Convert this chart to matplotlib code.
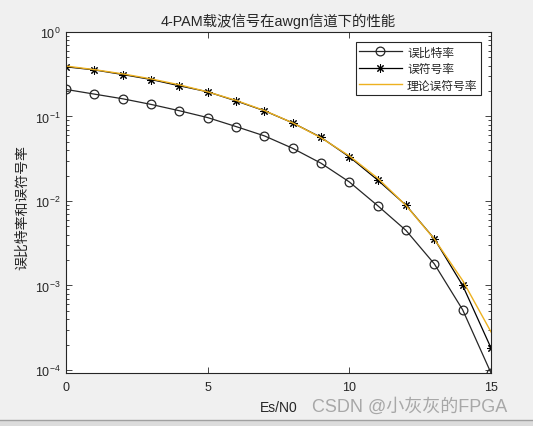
import matplotlib
matplotlib.use("Agg")
import matplotlib.pyplot as plt
from matplotlib.ticker import LogLocator, FixedLocator, NullLocator

plt.rcParams['font.family'] = ['Liberation Sans', 'Noto Sans CJK SC', 'DejaVu Sans']
plt.rcParams['mathtext.fontset'] = 'custom'
plt.rcParams['mathtext.rm'] = 'Liberation Sans'

# data
es_n0 = [0, 1, 2, 3, 4, 5, 6, 7, 8, 9, 10, 11, 12, 13, 14, 15]
ber = [0.209, 0.184, 0.162, 0.139, 0.117, 0.097, 0.076, 0.059, 0.042, 0.028,
       0.0168, 0.0088, 0.00448, 0.0018, 0.000515, 0.000092]
ser = [0.387, 0.356, 0.314, 0.274, 0.231, 0.196, 0.153, 0.117, 0.084, 0.0566,
       0.0333, 0.0177, 0.0089, 0.00357, 0.00100, 0.000182]
ser_theory = [0.3954, 0.3585, 0.3194, 0.2787, 0.2371, 0.1956, 0.1552, 0.1176,
              0.0841, 0.0560, 0.0341, 0.01863, 0.00885, 0.003545, 0.001143, 0.000282]
xticks = [0, 5, 10, 15]
labels = ['误比特率', '误符号率', '理论误符号率']
title = '4-PAM载波信号在awgn信道下的性能'
xlabel = 'Es/N0'
ylabel = '误比特率和误符号率'
watermark = 'CSDN @小灰灰的FPGA'

W, H = 533, 427
fig = plt.figure(figsize=(W / 100, H / 100), dpi=100, facecolor='#f0f0f0')
ax = fig.add_axes([66 / W, 1 - 374 / H, (491 - 66) / W, (374 - 33) / H])
ax.set_facecolor('white')

lc = '#262626'
ax.semilogy(es_n0, ber, '-o', color=lc, lw=0.9, ms=6.3, mfc='none', mew=0.9, label=labels[0])
ax.semilogy(es_n0, ser, '-', marker=(8, 2, 0), color='black', lw=0.9, ms=6.0, mew=0.75, label=labels[1])
ax.semilogy(es_n0, ser_theory, '-', color='#edb120', lw=1.0, label=labels[2])

ax.set_xlim(0, 15)
ax.set_ylim(9.2e-5, 1)
ax.xaxis.set_major_locator(FixedLocator(xticks))
ax.xaxis.set_minor_locator(NullLocator())
ax.yaxis.set_major_locator(LogLocator(base=10, numticks=10))
ax.yaxis.set_minor_locator(LogLocator(base=10, subs=range(2, 10), numticks=10))

for s in ax.spines.values():
    s.set_color(lc)
    s.set_linewidth(0.8)
ax.tick_params(which='both', direction='in', top=True, right=True, colors=lc,
               labelsize=9, width=0.6)
ax.tick_params(which='major', length=4.5, pad=4)
ax.tick_params(which='minor', length=2.5)
ax.tick_params(axis='x', pad=6)

ax.set_title(title, fontsize=10.4, color=lc, pad=5)
fig.text(279 / W, 1 - 408 / H, xlabel, fontsize=10, color=lc, ha='center', va='center')
fig.text(22 / W, 1 - 208 / H, ylabel, fontsize=10, color=lc, ha='center', va='center',
         rotation=90, family=['Noto Sans CJK SC', 'DejaVu Sans'])
fig.text(410 / W, 1 - 407 / H, watermark, fontsize=13, color='#a8a8a8', ha='center', va='center',
         family=['Liberation Sans', 'Noto Sans CJK SC'])

leg = ax.legend(loc='upper right', bbox_to_anchor=(481 / W, 1 - 43 / H), bbox_transform=fig.transFigure,
                frameon=True, fancybox=False, edgecolor=lc, framealpha=1,
                handlelength=3.6, handletextpad=0.45, borderpad=0.3, labelspacing=0.3,
                borderaxespad=0.0,
                prop={'family': ['Noto Sans CJK SC', 'DejaVu Sans'], 'size': 8.5})
leg.get_frame().set_linewidth(0.8)
for t in leg.get_texts():
    t.set_color(lc)

# bottom window strip
fig.patches.append(plt.Rectangle((0, 0), 1, 6 / H, transform=fig.transFigure,
                                 facecolor='#dcdcdc', edgecolor='none', zorder=0))
fig.lines.append(plt.Line2D([0, 1], [6 / H, 6 / H], transform=fig.transFigure,
                            color='#a0a0a0', lw=1.0))

fig.savefig('out.png', dpi=100, facecolor=fig.get_facecolor())
